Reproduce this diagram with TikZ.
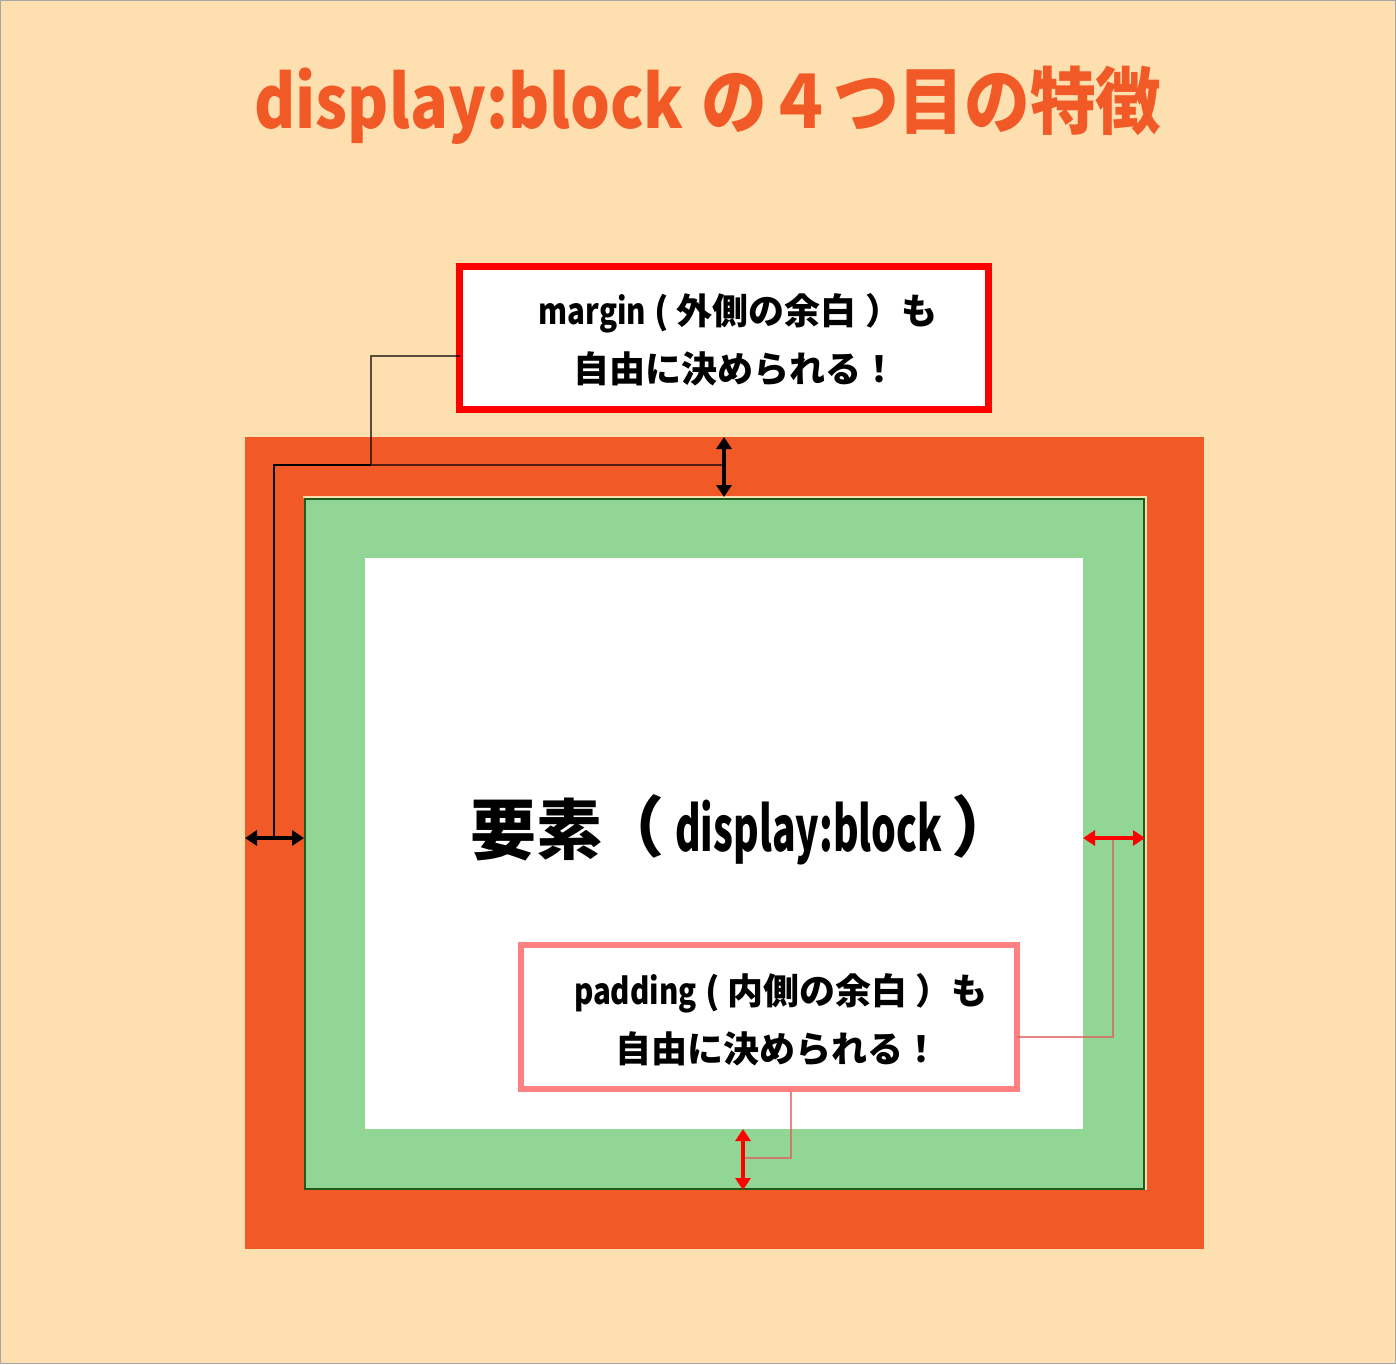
\documentclass[tikz,border=0pt]{standalone}
\usepackage{fontspec}
\usepackage{graphicx}
\setmainfont{Noto Sans CJK JP}
\usetikzlibrary{arrows.meta}
\definecolor{bgpeach}{HTML}{FDDFB0}
\definecolor{orng}{HTML}{F15A27}
\definecolor{grn}{HTML}{92D696}
\definecolor{dkgrn}{HTML}{1F5A1F}
\definecolor{salmonred}{HTML}{FF8080}
\definecolor{pline}{HTML}{E0605A}
\newcommand{\nar}[1]{\scalebox{0.82}[1]{#1}}
\tikzset{
  box/.style={draw=none, inner sep=0pt, outer sep=0pt},
  callout/.style={draw, fill=white, inner sep=0pt, outer sep=0pt},
  lbl/.style={inner sep=0pt, font=\bfseries\fontsize{36}{40}\selectfont},
  blackarrow/.style={line width=4pt, {Triangle[width=15pt,length=12pt]}-{Triangle[width=15pt,length=12pt]}},
  redarrow/.style={line width=4pt, red, {Triangle[width=15pt,length=12pt]}-{Triangle[width=15pt,length=12pt]}},
  mconn/.style={line width=2.5pt},
  pconn/.style={line width=2pt, pline, opacity=0.75},
}
\begin{document}
\begin{tikzpicture}[x=1pt,y=-1pt]
% background
\fill[bgpeach, draw=gray!70, line width=1pt] (0.5,0.5) rectangle (1395.5,1363.5);
\useasboundingbox (0,0) rectangle (1396,1364);
% title
\node[inner sep=0pt, text=orng, font=\bfseries\fontsize{73}{78}\selectfont] (title) at (708,105) {\scalebox{0.86}[1]{display:block}\hspace{18pt}\scalebox{0.9}[1]{の４つ目の特徴}};
% boxes
\node[box, fill=orng, minimum width=959pt, minimum height=812pt] (outer) at (724.5,843) {};
\draw[bgpeach, line width=2pt] (303,497) -- (1146,497) -- (1146,1190);
\node[box, fill=grn, draw=dkgrn, line width=2.5pt, minimum width=839pt, minimum height=690pt] (green) at (724.5,844) {};
\node[box, fill=white, minimum width=718pt, minimum height=571pt] (inner) at (724,843.5) {};
% main text
\node[inner sep=0pt, font=\bfseries\fontsize{66}{70}\selectfont] (yoso) at (536,830) {要素};
\node[inner sep=0pt, anchor=west, font=\bfseries\fontsize{66}{70}\selectfont] (disp) at (598,830) {（\hspace{11pt}\scalebox{0.63}[1]{\fontsize{62}{66}\selectfont display:block}\hspace{9pt}）};
% margin callout
\node[callout, draw=red, line width=7pt, minimum width=529pt, minimum height=143pt] (mbox) at (724,338) {};
\node[lbl] (m1) at (738,313) {\nar{margin} ( 外側の余白 ）も};
\node[lbl] (m2) at (735,369) {自由に決められる！};
% padding callout
\node[callout, draw=salmonred, line width=6pt, minimum width=496pt, minimum height=144pt] (pbox) at (769,1017) {};
\node[lbl] (p1) at (781,993) {\nar{padding} ( 内側の余白 ）も};
\node[lbl] (p2) at (777,1049) {自由に決められる！};
% coordinates
\coordinate (mt1) at (724,437);
\coordinate (mt2) at (724,497);
\coordinate (ml1) at (245,838);
\coordinate (ml2) at (304,838);
\coordinate (pr1) at (1083,838);
\coordinate (pr2) at (1145,838);
\coordinate (pb1) at (743,1129);
\coordinate (pb2) at (743,1190);
\coordinate (mj) at (371,465);
% margin connectors
\draw[mconn, black, opacity=0.65] (mbox.west |- 0,356) -- (371,356) -- (mj) -- (mj -| mt1);
\draw[mconn, black] (mj) -- (274,465) -- (274,838);
\draw[blackarrow] (mt1) -- (mt2);
\draw[blackarrow] (ml1) -- (ml2);
% padding connectors
\draw[pconn] (pbox.east |- 0,1037) -- (1113,1037) -- (1113,838);
\draw[pconn] (791,1092) -- (791,1158) -- (743,1158);
\draw[redarrow] (pr1) -- (pr2);
\draw[redarrow] (pb1) -- (pb2);
\end{tikzpicture}
\end{document}
